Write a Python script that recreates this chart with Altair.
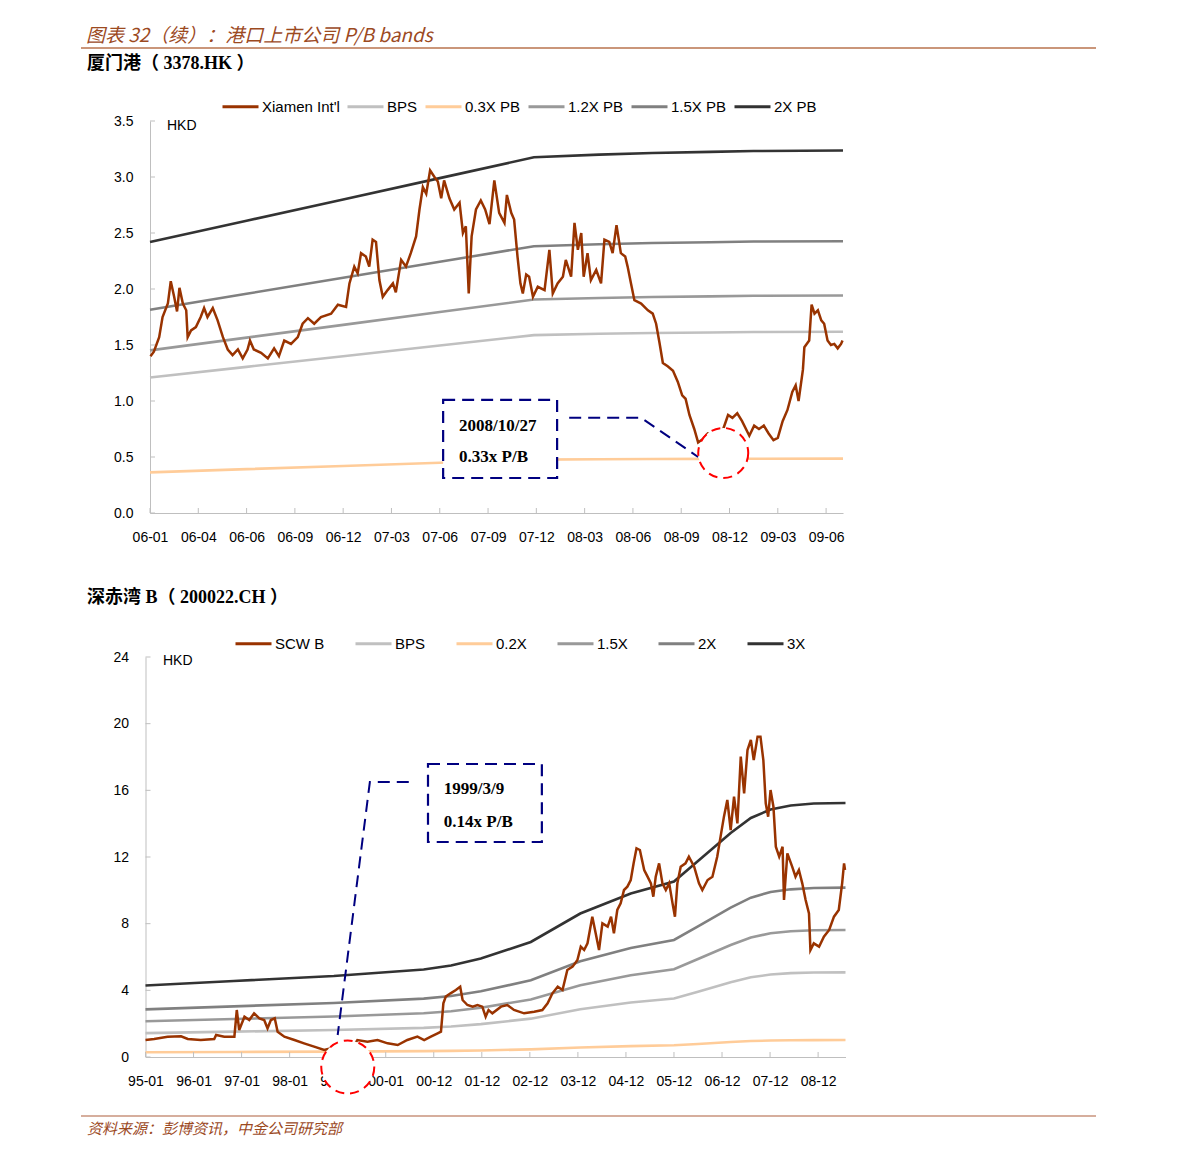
import json
import altair as alt
import pandas as pd

# ---------------- text ----------------
TITLE = "图表 32（续）：港口上市公司 P/B bands"
SUB1 = "厦门港（ 3378.HK ）"
SUB2 = "深赤湾 B（ 200022.CH ）"
SOURCE = "资料来源：彭博资讯，中金公司研究部"
UNIT = "HKD"

# ---------------- panel 1: Xiamen Int'l ----------------
x1_labels = ["06-01", "06-04", "06-06", "06-09", "06-12", "07-03", "07-06", "07-09",
             "07-12", "08-03", "08-06", "08-09", "08-12", "09-03", "09-06"]
y1_ticks = [0.0, 0.5, 1.0, 1.5, 2.0, 2.5, 3.0, 3.5]
series1 = ["Xiamen Int'l", "BPS", "0.3X PB", "1.2X PB", "1.5X PB", "2X PB"]
mult1 = [None, 1.0, 0.3, 1.2, 1.5, 2.0]
colors1 = ["#993300", "#C0C0C0", "#FFCC99", "#999999", "#808080", "#333333"]

# price (x in tick-label units, value in HKD)
price1 = [
    (0.01, 1.40), (0.08, 1.44), (0.19, 1.57), (0.26, 1.75), (0.37, 1.87), (0.43, 2.07),
    (0.50, 1.93), (0.56, 1.80), (0.61, 2.01), (0.68, 1.87), (0.75, 1.81), (0.78, 1.57),
    (0.85, 1.63), (0.95, 1.66), (1.05, 1.75), (1.12, 1.83), (1.19, 1.75), (1.30, 1.83),
    (1.40, 1.72), (1.51, 1.57), (1.61, 1.46), (1.71, 1.41), (1.82, 1.46), (1.92, 1.38),
    (2.02, 1.46), (2.07, 1.54), (2.15, 1.46), (2.30, 1.43), (2.44, 1.38), (2.57, 1.47),
    (2.67, 1.40), (2.78, 1.54), (2.92, 1.51), (3.06, 1.57), (3.16, 1.69), (3.27, 1.74),
    (3.40, 1.69), (3.54, 1.75), (3.75, 1.78), (3.89, 1.86), (4.06, 1.84), (4.13, 2.05),
    (4.23, 2.20), (4.30, 2.14), (4.37, 2.32), (4.47, 2.29), (4.54, 2.20), (4.61, 2.44),
    (4.68, 2.42), (4.75, 2.08), (4.82, 1.93), (4.92, 1.99), (5.03, 2.05), (5.09, 1.97),
    (5.20, 2.26), (5.30, 2.20), (5.40, 2.32), (5.51, 2.47), (5.58, 2.71), (5.65, 2.91),
    (5.72, 2.85), (5.80, 3.06), (5.89, 3.00), (5.96, 2.96), (6.03, 2.81), (6.09, 2.97),
    (6.20, 2.81), (6.30, 2.71), (6.41, 2.77), (6.48, 2.50), (6.54, 2.56), (6.60, 1.96),
    (6.66, 2.47), (6.75, 2.71), (6.85, 2.79), (6.94, 2.71), (7.03, 2.58), (7.13, 2.97),
    (7.23, 2.68), (7.34, 2.59), (7.39, 2.84), (7.48, 2.68), (7.54, 2.62), (7.61, 2.29),
    (7.67, 2.05), (7.72, 1.96), (7.79, 2.13), (7.85, 2.11), (7.93, 1.93), (8.03, 2.02),
    (8.17, 1.99), (8.27, 2.35), (8.34, 1.96), (8.44, 2.05), (8.55, 2.11), (8.61, 2.26),
    (8.72, 2.11), (8.79, 2.59), (8.86, 2.35), (8.93, 2.50), (8.98, 2.11), (9.06, 2.32),
    (9.13, 2.08), (9.24, 2.17), (9.34, 2.05), (9.41, 2.44), (9.51, 2.42), (9.58, 2.32),
    (9.66, 2.57), (9.75, 2.32), (9.84, 2.29), (9.89, 2.20), (9.96, 2.05), (10.03, 1.90),
    (10.17, 1.87), (10.31, 1.81), (10.41, 1.78), (10.48, 1.69), (10.55, 1.52), (10.62, 1.34),
    (10.72, 1.31), (10.83, 1.27), (10.93, 1.17), (11.02, 1.05), (11.09, 1.02), (11.17, 0.875),
    (11.27, 0.75), (11.35, 0.63), (11.45, 0.66), (11.55, 0.71), (11.72, 0.69), (11.87, 0.75),
    (11.97, 0.875), (12.06, 0.85), (12.16, 0.89), (12.26, 0.82), (12.41, 0.69), (12.51, 0.78),
    (12.61, 0.75), (12.71, 0.78), (12.81, 0.71), (12.91, 0.65), (13.00, 0.67), (13.10, 0.82),
    (13.20, 0.92), (13.30, 1.08), (13.37, 1.14), (13.43, 1.00), (13.52, 1.28), (13.55, 1.48),
    (13.65, 1.54), (13.70, 1.86), (13.76, 1.78), (13.83, 1.81), (13.90, 1.72), (13.96, 1.69),
    (14.03, 1.54), (14.10, 1.50), (14.17, 1.51), (14.24, 1.47), (14.31, 1.51), (14.34, 1.54),
]
bps1 = [(0.0, 1.21), (2.0, 1.305), (4.0, 1.40), (6.0, 1.495), (7.95, 1.588), (9.3, 1.60),
        (10.4, 1.607), (11.6, 1.612), (12.5, 1.616), (14.35, 1.618)]

note1_text = ["2008/10/27", "0.33x P/B"]
note1_box = {"x": 6.07, "x2": 8.43, "y": 1.01, "y2": 0.3125}
note1_pos = [(6.40, 0.777), (6.40, 0.50)]
leader1 = [(8.68, 0.85), (10.17, 0.85), (11.35, 0.50)]
circle1 = (11.87, 0.536)

# ---------------- panel 2: SCW B ----------------
x2_labels = ["95-01", "96-01", "97-01", "98-01", "99-01", "00-01", "00-12", "01-12",
             "02-12", "03-12", "04-12", "05-12", "06-12", "07-12", "08-12"]
y2_ticks = [0, 4, 8, 12, 16, 20, 24]
series2 = ["SCW B", "BPS", "0.2X", "1.5X", "2X", "3X"]
mult2 = [None, 1.0, 0.2, 1.5, 2.0, 3.0]
colors2 = ["#993300", "#C0C0C0", "#FFCC99", "#999999", "#808080", "#333333"]

price2 = [
    (0.00, 1.02), (0.18, 1.08), (0.46, 1.22), (0.74, 1.24), (0.88, 1.08), (1.15, 1.02),
    (1.43, 1.08), (1.47, 1.32), (1.64, 1.22), (1.85, 1.22), (1.90, 2.82), (1.95, 1.62),
    (2.06, 2.42), (2.16, 2.22), (2.26, 2.62), (2.37, 2.32), (2.47, 2.22), (2.54, 1.72),
    (2.61, 2.22), (2.69, 2.32), (2.75, 1.52), (2.89, 1.22), (3.10, 1.02), (3.30, 0.82),
    (3.51, 0.62), (3.72, 0.42), (3.86, 0.52), (4.11, 0.35), (4.32, 0.60), (4.41, 1.02),
    (4.62, 0.92), (4.83, 1.02), (5.04, 0.82), (5.25, 0.72), (5.45, 1.02), (5.66, 1.22),
    (5.80, 1.02), (5.94, 1.22), (6.08, 1.42), (6.15, 1.52), (6.20, 3.22), (6.25, 3.62),
    (6.35, 3.82), (6.46, 4.02), (6.55, 4.22), (6.60, 3.42), (6.70, 3.12), (6.81, 3.02),
    (6.91, 3.12), (7.01, 3.02), (7.08, 2.42), (7.14, 2.82), (7.22, 2.62), (7.40, 3.02),
    (7.53, 3.12), (7.67, 2.82), (7.88, 2.62), (8.09, 2.72), (8.26, 2.82), (8.37, 3.22),
    (8.47, 3.82), (8.58, 4.22), (8.68, 4.02), (8.78, 5.22), (8.89, 5.42), (8.99, 5.82),
    (9.06, 6.62), (9.13, 6.42), (9.20, 6.82), (9.30, 8.42), (9.37, 7.42), (9.44, 6.42),
    (9.51, 8.02), (9.62, 7.82), (9.69, 8.42), (9.75, 7.42), (9.82, 8.82), (9.89, 9.22),
    (9.96, 10.02), (10.03, 10.22), (10.10, 10.62), (10.16, 11.62), (10.22, 12.52),
    (10.29, 12.42), (10.38, 11.22), (10.45, 10.82), (10.52, 10.42), (10.57, 9.62),
    (10.62, 10.82), (10.69, 11.62), (10.76, 10.42), (10.83, 10.02), (10.90, 10.42),
    (10.97, 9.22), (11.02, 8.42), (11.07, 10.42), (11.14, 11.42), (11.24, 11.62),
    (11.31, 12.02), (11.42, 11.42), (11.52, 10.42), (11.59, 10.02), (11.70, 10.62),
    (11.80, 10.82), (11.90, 12.02), (11.97, 13.22), (12.04, 14.42), (12.11, 15.42),
    (12.18, 13.62), (12.25, 15.62), (12.32, 14.02), (12.39, 18.02), (12.46, 15.82),
    (12.53, 18.42), (12.60, 19.02), (12.66, 17.82), (12.74, 19.22), (12.80, 19.22),
    (12.86, 17.82), (12.91, 15.22), (12.96, 14.42), (13.01, 16.02), (13.07, 15.02),
    (13.12, 12.62), (13.19, 12.02), (13.26, 12.62), (13.29, 9.42), (13.36, 12.22),
    (13.46, 11.42), (13.53, 10.82), (13.60, 11.22), (13.67, 10.42), (13.74, 9.42),
    (13.81, 8.62), (13.84, 6.42), (13.91, 6.82), (14.02, 6.62), (14.12, 7.22),
    (14.23, 7.62), (14.33, 8.42), (14.43, 8.82), (14.50, 10.42), (14.54, 11.62),
    (14.56, 11.22),
]
bps2 = [(0.0, 1.43), (1.84, 1.52), (3.92, 1.62), (5.79, 1.75), (6.36, 1.83), (6.98, 1.97),
        (8.02, 2.30), (9.05, 2.87), (10.10, 3.27), (11.0, 3.51), (11.5, 3.92), (12.18, 4.48),
        (12.6, 4.78), (13.01, 4.95), (13.43, 5.03), (13.91, 5.07), (14.57, 5.08)]

note2_text = ["1999/3/9", "0.14x P/B"]
note2_box = {"x": 5.88, "x2": 8.25, "y": 17.58, "y2": 12.9}
note2_pos = [(6.21, 16.08), (6.21, 14.1)]
leader2 = [(5.48, 16.5), (4.67, 16.5), (4.00, 1.32)]
circle2 = (4.21, -0.6)

AXIS_COLOR = "#BFBFBF"
NAVY = "#000080"
TITLE_COLOR = "#9C4A1F"

# overall view: origin at the top-left of panel 1's plot area
VIEW_W, VIEW_H = 693, 936


def deco_text(text, x, y, **kw):
    return alt.Chart(pd.DataFrame({"t": [text]})).mark_text(align="left", **kw).encode(
        x=alt.value(x), y=alt.value(y), text="t:N")


def deco_rule(x1, x2, y, color, width):
    return alt.Chart(pd.DataFrame({"k": [0]})).mark_rule(color=color, strokeWidth=width).encode(
        x=alt.value(x1), x2=alt.value(x2), y=alt.value(y))


def panel(xrange_px, yrange_px, xmax, ydom, xlabels, yticks, yfmt, price, bps, series, mult,
          colors, legend_x, legend_y, col_pad, box, note_text, note_pos, leader, circle, csize,
          x_off, y_off, extra):
    x0, x1 = xrange_px
    ybot, ytop = yrange_px
    xs = alt.Scale(domain=[0, xmax], range=[x0, x1], nice=False, zero=False)
    ys = alt.Scale(domain=ydom, range=[ybot, ytop], nice=False, zero=False)
    ax_x = alt.Axis(orient="bottom", offset=x_off, values=list(range(len(xlabels))),
                    labelExpr=f"{json.dumps(xlabels)}[datum.value]",
                    ticks=False, grid=False, domainColor=AXIS_COLOR, domainWidth=1,
                    labelFont="Liberation Sans", labelFontSize=14, labelColor="black",
                    labelPadding=17, labelOverlap=False, labelFlush=False, title=None)
    ax_y = alt.Axis(orient="left", offset=y_off, values=yticks, format=yfmt, ticks=False,
                    grid=False, domainColor=AXIS_COLOR, domainWidth=1,
                    labelFont="Liberation Sans", labelFontSize=14, labelColor="black",
                    labelPadding=17, title=None)

    def X(f):
        return alt.X(f, type="quantitative", scale=xs, axis=ax_x)

    def Y(f):
        return alt.Y(f, type="quantitative", scale=ys, axis=ax_y)

    legend = alt.Legend(orient="none", legendX=legend_x, legendY=legend_y,
                        direction="horizontal", title=None, symbolType="stroke",
                        symbolSize=1296, symbolStrokeWidth=3, symbolOpacity=1,
                        labelFont="Liberation Sans", labelFontSize=15, labelColor="black",
                        labelOffset=2, columnPadding=col_pad, padding=0)
    color = alt.Color("series:N", scale=alt.Scale(domain=series, range=colors), legend=legend)

    rows = []
    for name, m in zip(series[1:], mult[1:]):
        for i, (u, b) in enumerate(bps):
            rows.append({"series": name, "u": u, "bps": b, "mult": m, "i": i})
    bands = alt.Chart(pd.DataFrame(rows)).transform_calculate(
        v="datum.bps * datum.mult").mark_line(strokeWidth=2.6).encode(
        x=X("u"), y=Y("v"), color=color, order="i:Q")

    pdf = pd.DataFrame({"u": [p[0] for p in price], "v": [p[1] for p in price],
                        "i": list(range(len(price))), "series": series[0]})
    pline = alt.Chart(pdf).mark_line(strokeWidth=2.5).encode(
        x=X("u"), y=Y("v"), color=color, order="i:Q")

    xt = alt.Chart(pd.DataFrame({"u": list(range(len(xlabels)))})).mark_rule(
        color=AXIS_COLOR, strokeWidth=1).encode(
        x=X("u"), y=alt.value(ybot), y2=alt.value(ybot - 5))
    yt = alt.Chart(pd.DataFrame({"v": yticks})).mark_rule(
        color=AXIS_COLOR, strokeWidth=1).encode(
        y=Y("v"), x=alt.value(x0), x2=alt.value(x0 + 5))

    rect = alt.Chart(pd.DataFrame([box])).mark_rect(
        fill="white", stroke=NAVY, strokeWidth=2.2, strokeDash=[12, 7]).encode(
        x=X("x"), x2="x2", y=Y("y"), y2="y2")
    ntext = alt.Chart(pd.DataFrame({"x": [p[0] for p in note_pos], "y": [p[1] for p in note_pos],
                                    "t": note_text})).mark_text(
        align="left", baseline="middle", font="Liberation Serif", fontWeight="bold",
        fontSize=17, color="black").encode(x=X("x"), y=Y("y"), text="t:N")
    lead = alt.Chart(pd.DataFrame({"u": [p[0] for p in leader], "v": [p[1] for p in leader],
                                   "i": list(range(len(leader)))})).mark_line(
        color=NAVY, strokeWidth=2, strokeDash=[12, 7]).encode(x=X("u"), y=Y("v"), order="i:Q")
    circ = alt.Chart(pd.DataFrame({"u": [circle[0]], "v": [circle[1]]})).mark_point(
        shape="circle", size=csize, filled=True, fill="white", stroke="#FF0000",
        strokeWidth=2, strokeDash=[9, 6], opacity=1).encode(x=X("u"), y=Y("v"))

    return alt.layer(bands, pline, xt, yt, rect, ntext, lead, circ, *extra)


deco1 = [
    deco_text(TITLE, -64, -79, font="Noto Sans CJK SC", fontSize=19, fontStyle="italic",
              color=TITLE_COLOR, baseline="alphabetic"),
    deco_rule(-69, 946, -73, "#B8734E", 1.5),
    deco_text(SUB1, -63, -52, font="Liberation Serif, Noto Sans CJK SC", fontSize=18,
              fontWeight="bold", color="black", baseline="alphabetic"),
    deco_text(UNIT, 17, 5, font="Liberation Sans", fontSize=14, color="black", baseline="middle"),
]
deco2 = [
    deco_text(SUB2, -63, 482, font="Liberation Serif, Noto Sans CJK SC", fontSize=18,
              fontWeight="bold", color="black", baseline="alphabetic"),
    deco_text(UNIT, 13, 540, font="Liberation Sans", fontSize=14, color="black", baseline="middle"),
    deco_rule(-69, 946, 995, "#C8937C", 1.5),
    deco_text(SOURCE, -63, 1013, font="Noto Sans CJK SC", fontSize=15, fontStyle="italic",
              color="#9C4A1F", baseline="alphabetic"),
]

p1 = panel((0, 693), (392, 0), 14.35, [0, 3.5], x1_labels, y1_ticks, ".1f", price1, bps1,
           series1, mult1, colors1, 71, -34, 1, note1_box, note1_text, note1_pos, leader1,
           circle1, 2500, -(VIEW_H - 392), 0, deco1)
p2 = panel((-4.5, 695.5), (936, 536), 14.57, [0, 24], x2_labels, y2_ticks, "d", price2, bps2,
           series2, mult2, colors2, 84, 503, 24, note2_box, note2_text, note2_pos, leader2,
           circle2, 2809, 0, 4.5, deco2)

chart = alt.layer(p1, p2).resolve_scale(
    x="independent", y="independent", color="independent"
).properties(
    width=VIEW_W, height=VIEW_H,
    padding={"left": 72, "top": 19, "right": 10, "bottom": 10}, background="white"
).configure_view(stroke=None)

chart.save("out.html", embed_options={"renderer": "svg", "actions": False})
